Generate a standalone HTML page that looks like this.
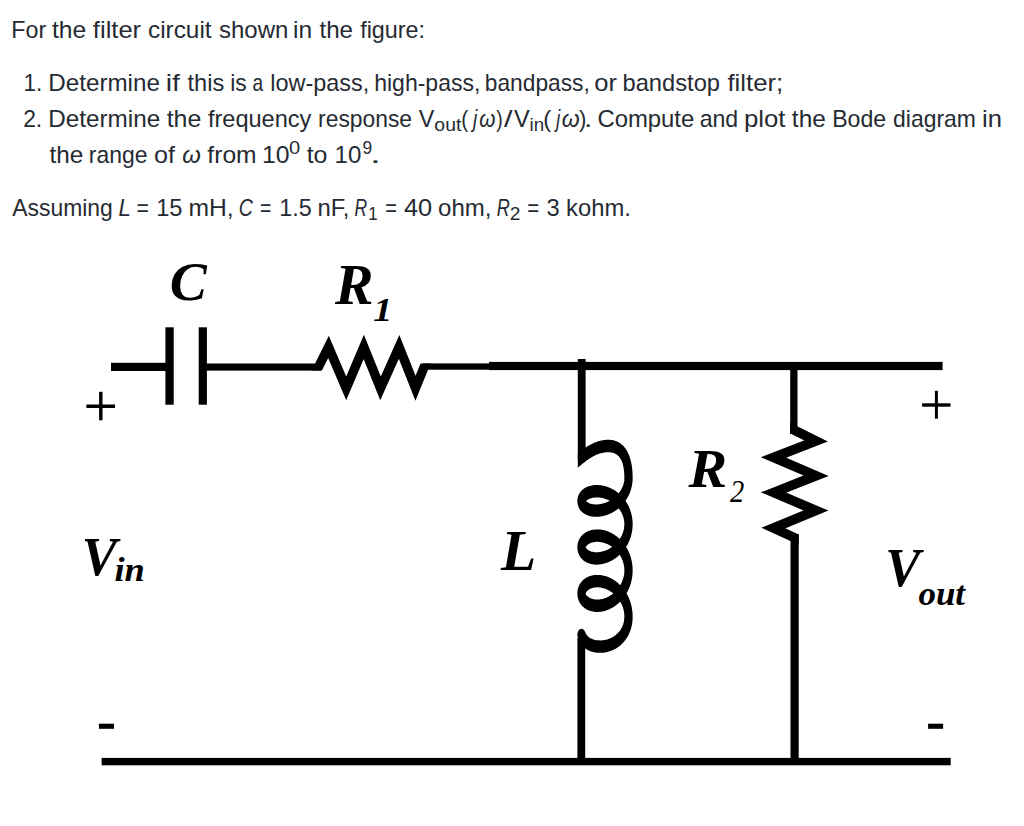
<!DOCTYPE html>
<html><head><meta charset="utf-8"><style>
html,body{margin:0;padding:0;background:#fff;}
body{width:1024px;height:826px;position:relative;overflow:hidden;}
</style></head><body>
<svg width="1024" height="826" viewBox="0 0 1024 826" style="position:absolute;left:0;top:0">
<g font-family="Liberation Sans, sans-serif" fill="#262a32">
<text x="11.26" y="37.80" font-size="24" textLength="34.87" lengthAdjust="spacingAndGlyphs">For</text>
<text x="51.95" y="37.80" font-size="24" textLength="34.27" lengthAdjust="spacingAndGlyphs">the</text>
<text x="92.87" y="37.80" font-size="24" textLength="48.25" lengthAdjust="spacingAndGlyphs">filter</text>
<text x="147.94" y="37.80" font-size="24" textLength="63.69" lengthAdjust="spacingAndGlyphs">circuit</text>
<text x="219.03" y="37.80" font-size="24" textLength="69.32" lengthAdjust="spacingAndGlyphs">shown</text>
<text x="293.05" y="37.80" font-size="24" textLength="19.09" lengthAdjust="spacingAndGlyphs">in</text>
<text x="319.46" y="37.80" font-size="24" textLength="33.54" lengthAdjust="spacingAndGlyphs">the</text>
<text x="360.20" y="37.80" font-size="24" textLength="64.81" lengthAdjust="spacingAndGlyphs">figure:</text>
<text x="23.42" y="91.30" font-size="24" textLength="18.77" lengthAdjust="spacingAndGlyphs">1.</text>
<text x="48.28" y="91.30" font-size="24" textLength="111.66" lengthAdjust="spacingAndGlyphs">Determine</text>
<text x="165.66" y="91.30" font-size="24" textLength="14.29" lengthAdjust="spacingAndGlyphs">if</text>
<text x="187.56" y="91.30" font-size="24" textLength="36.68" lengthAdjust="spacingAndGlyphs">this</text>
<text x="230.27" y="91.30" font-size="24" textLength="16.53" lengthAdjust="spacingAndGlyphs">is</text>
<text x="252.55" y="91.30" font-size="24" textLength="10.59" lengthAdjust="spacingAndGlyphs">a</text>
<text x="270.29" y="91.30" font-size="24" textLength="98.95" lengthAdjust="spacingAndGlyphs">low-pass,</text>
<text x="374.20" y="91.30" font-size="24" textLength="106.17" lengthAdjust="spacingAndGlyphs">high-pass,</text>
<text x="484.81" y="91.30" font-size="24" textLength="104.97" lengthAdjust="spacingAndGlyphs">bandpass,</text>
<text x="594.39" y="91.30" font-size="24" textLength="22.73" lengthAdjust="spacingAndGlyphs">or</text>
<text x="622.54" y="91.30" font-size="24" textLength="97.45" lengthAdjust="spacingAndGlyphs">bandstop</text>
<text x="727.46" y="91.30" font-size="24" textLength="55.80" lengthAdjust="spacingAndGlyphs">filter;</text>
<text x="23.17" y="126.80" font-size="24" textLength="19.05" lengthAdjust="spacingAndGlyphs">2.</text>
<text x="48.28" y="126.80" font-size="24" textLength="111.87" lengthAdjust="spacingAndGlyphs">Determine</text>
<text x="166.65" y="126.80" font-size="24" textLength="34.69" lengthAdjust="spacingAndGlyphs">the</text>
<text x="207.89" y="126.80" font-size="24" textLength="103.51" lengthAdjust="spacingAndGlyphs">frequency</text>
<text x="318.07" y="126.80" font-size="24" textLength="94.01" lengthAdjust="spacingAndGlyphs">response</text>
<text x="418.72" y="126.80" font-size="24" textLength="15.53" lengthAdjust="spacingAndGlyphs">V</text>
<text x="461.35" y="126.80" font-size="24" textLength="6.94" lengthAdjust="spacingAndGlyphs">(</text>
<text x="496.19" y="126.80" font-size="24" textLength="6.46" lengthAdjust="spacingAndGlyphs">)</text>
<text x="504.06" y="126.80" font-size="24" textLength="8.52" lengthAdjust="spacingAndGlyphs">/</text>
<text x="513.91" y="126.80" font-size="24" textLength="15.73" lengthAdjust="spacingAndGlyphs">V</text>
<text x="543.37" y="126.80" font-size="24" textLength="7.87" lengthAdjust="spacingAndGlyphs">(</text>
<text x="579.12" y="126.80" font-size="24" textLength="7.40" lengthAdjust="spacingAndGlyphs">)</text>
<text x="583.98" y="126.80" font-size="24" textLength="8.37" lengthAdjust="spacingAndGlyphs">.</text>
<text x="597.41" y="126.80" font-size="24" textLength="96.79" lengthAdjust="spacingAndGlyphs">Compute</text>
<text x="699.67" y="126.80" font-size="24" textLength="38.54" lengthAdjust="spacingAndGlyphs">and</text>
<text x="743.90" y="126.80" font-size="24" textLength="41.58" lengthAdjust="spacingAndGlyphs">plot</text>
<text x="791.85" y="126.80" font-size="24" textLength="33.96" lengthAdjust="spacingAndGlyphs">the</text>
<text x="832.17" y="126.80" font-size="24" textLength="53.98" lengthAdjust="spacingAndGlyphs">Bode</text>
<text x="893.10" y="126.80" font-size="24" textLength="82.75" lengthAdjust="spacingAndGlyphs">diagram</text>
<text x="981.97" y="126.80" font-size="24" textLength="19.94" lengthAdjust="spacingAndGlyphs">in</text>
<text x="472.99" y="126.80" font-size="24" font-style="italic" textLength="4.25" lengthAdjust="spacingAndGlyphs">j</text>
<text x="479.25" y="126.80" font-size="24" font-style="italic" textLength="16.16" lengthAdjust="spacingAndGlyphs">ω</text>
<text x="556.14" y="126.80" font-size="24" font-style="italic" textLength="3.94" lengthAdjust="spacingAndGlyphs">j</text>
<text x="561.66" y="126.80" font-size="24" font-style="italic" textLength="17.91" lengthAdjust="spacingAndGlyphs">ω</text>
<text x="434.36" y="130.80" font-size="17.5" textLength="27.00" lengthAdjust="spacingAndGlyphs">out</text>
<text x="529.59" y="130.80" font-size="17.5" textLength="14.54" lengthAdjust="spacingAndGlyphs">in</text>
<text x="49.45" y="162.50" font-size="24" textLength="33.75" lengthAdjust="spacingAndGlyphs">the</text>
<text x="88.86" y="162.50" font-size="24" textLength="58.69" lengthAdjust="spacingAndGlyphs">range</text>
<text x="153.91" y="162.50" font-size="24" textLength="20.97" lengthAdjust="spacingAndGlyphs">of</text>
<text x="207.38" y="162.50" font-size="24" textLength="49.19" lengthAdjust="spacingAndGlyphs">from</text>
<text x="262.04" y="162.50" font-size="24" textLength="27.60" lengthAdjust="spacingAndGlyphs">10</text>
<text x="306.65" y="162.50" font-size="24" textLength="20.79" lengthAdjust="spacingAndGlyphs">to</text>
<text x="334.60" y="162.50" font-size="24" textLength="26.82" lengthAdjust="spacingAndGlyphs">10</text>
<text x="369.90" y="162.50" font-size="24" textLength="10.80" lengthAdjust="spacingAndGlyphs">.</text>
<text x="182.23" y="162.50" font-size="24" font-style="italic" textLength="18.56" lengthAdjust="spacingAndGlyphs">ω</text>
<text x="288.96" y="153.90" font-size="17.5" textLength="11.19" lengthAdjust="spacingAndGlyphs">0</text>
<text x="362.59" y="153.90" font-size="17.5" textLength="9.65" lengthAdjust="spacingAndGlyphs">9</text>
<text x="12.29" y="216.20" font-size="24" textLength="100.51" lengthAdjust="spacingAndGlyphs">Assuming</text>
<text x="136.60" y="216.20" font-size="24" textLength="12.32" lengthAdjust="spacingAndGlyphs">=</text>
<text x="156.13" y="216.20" font-size="24" textLength="26.33" lengthAdjust="spacingAndGlyphs">15</text>
<text x="188.41" y="216.20" font-size="24" textLength="45.24" lengthAdjust="spacingAndGlyphs">mH,</text>
<text x="259.88" y="216.20" font-size="24" textLength="11.38" lengthAdjust="spacingAndGlyphs">=</text>
<text x="279.36" y="216.20" font-size="24" textLength="32.44" lengthAdjust="spacingAndGlyphs">1.5</text>
<text x="317.47" y="216.20" font-size="24" textLength="31.82" lengthAdjust="spacingAndGlyphs">nF,</text>
<text x="385.25" y="216.20" font-size="24" textLength="11.73" lengthAdjust="spacingAndGlyphs">=</text>
<text x="403.93" y="216.20" font-size="24" textLength="28.23" lengthAdjust="spacingAndGlyphs">40</text>
<text x="438.05" y="216.20" font-size="24" textLength="53.42" lengthAdjust="spacingAndGlyphs">ohm,</text>
<text x="527.23" y="216.20" font-size="24" textLength="11.97" lengthAdjust="spacingAndGlyphs">=</text>
<text x="546.49" y="216.20" font-size="24" textLength="13.18" lengthAdjust="spacingAndGlyphs">3</text>
<text x="566.07" y="216.20" font-size="24" textLength="64.72" lengthAdjust="spacingAndGlyphs">kohm.</text>
<text x="118.57" y="216.20" font-size="24" font-style="italic" textLength="12.34" lengthAdjust="spacingAndGlyphs">L</text>
<text x="238.71" y="216.20" font-size="24" font-style="italic" textLength="14.11" lengthAdjust="spacingAndGlyphs">C</text>
<text x="354.45" y="216.20" font-size="24" font-style="italic" textLength="12.60" lengthAdjust="spacingAndGlyphs">R</text>
<text x="496.63" y="216.20" font-size="24" font-style="italic" textLength="13.04" lengthAdjust="spacingAndGlyphs">R</text>
<text x="368.24" y="220.30" font-size="17.5" textLength="9.39" lengthAdjust="spacingAndGlyphs">1</text>
<text x="509.77" y="220.30" font-size="17.5" textLength="10.65" lengthAdjust="spacingAndGlyphs">2</text>
</g>
<g>
<g fill="#000" stroke="none">
  <rect x="111" y="362.8" width="56" height="8.2"/>
  <rect x="165.4" y="327.3" width="8.3" height="77.4"/>
  <rect x="198.7" y="327.3" width="8.2" height="77.4"/>
  <rect x="206" y="363.5" width="115" height="7.1"/>
  <rect x="423" y="363.4" width="68" height="6.3"/>
  <rect x="489" y="361.9" width="453.6" height="8.2"/>
  <rect x="101.6" y="757.9" width="849.1" height="7.4"/>
  <rect x="577.8" y="359" width="7.8" height="100"/>
  <rect x="577.4" y="638" width="7.8" height="123"/>
  <rect x="790.2" y="362" width="7.3" height="72"/>
  <rect x="790.5" y="534" width="8.2" height="227"/>
  <rect x="86.4" y="404.5" width="28.6" height="3.5"/>
  <rect x="99.1" y="391.8" width="3.4" height="28.5"/>
  <rect x="922.1" y="403.3" width="28.4" height="3.4"/>
  <rect x="934.9" y="390.8" width="3" height="27.8"/>
  <rect x="98.9" y="723.7" width="15.1" height="5.1"/>
  <rect x="928.1" y="723.7" width="15" height="5.1"/>
</g>
<clipPath id="c1"><polygon points="300,320 420,320 420,363.4 450,363.4 450,420 325,420 325,370.6 300,370.6"/></clipPath>
<polyline clip-path="url(#c1)" points="314.5,375 328.5,346.9 346.2,388.3 363.8,346.9 380.5,388.3 399.1,346.9 415.5,388.3 427,360" fill="none" stroke="#000" stroke-width="9.3" stroke-miterlimit="10" stroke-linejoin="miter"/>
<clipPath id="c2"><polygon points="790.2,400 850,400 850,525 798.7,525 798.7,560 740,560 740,445 790.2,445"/></clipPath>
<polyline clip-path="url(#c2)" points="783,424.5 816,441 773.5,457.5 816,475.7 773.5,492.5 816,510.5 773.5,528 806,543" fill="none" stroke="#000" stroke-width="9.6" stroke-miterlimit="10" stroke-linejoin="miter"/>
<clipPath id="c3"><polygon points="577.8,400 700,400 700,700 560,700 560,482 577.8,482"/></clipPath><g clip-path="url(#c3)"><g transform="scale(1,1.5)"><path d="M574.00,309.33 L575.39,308.48 L576.75,307.67 L578.08,306.89 L579.40,306.15 L580.69,305.44 L581.96,304.76 L583.20,304.11 L584.43,303.50 L585.64,302.92 L586.83,302.37 L588.01,301.85 L589.17,301.37 L590.31,300.91 L591.44,300.48 L592.56,300.08 L593.67,299.71 L594.77,299.37 L595.85,299.06 L596.93,298.78 L598.00,298.52 L599.06,298.29 L600.12,298.08 L601.17,297.90 L602.22,297.75 L603.27,297.62 L604.32,297.52 L605.36,297.44 L606.41,297.38 L607.45,297.34 L608.50,297.33 L609.64,297.35 L610.76,297.41 L611.85,297.52 L612.93,297.66 L613.97,297.85 L615.00,298.08 L615.99,298.36 L616.96,298.68 L617.89,299.04 L618.80,299.46 L619.67,299.92 L620.51,300.43 L621.31,300.98 L622.08,301.59 L622.81,302.25 L623.51,302.96 L624.16,303.72 L624.77,304.53 L625.34,305.40 L625.87,306.32 L626.35,307.30 L626.79,308.33 L627.18,309.42 L627.52,310.56 L627.82,311.76 L628.06,313.02 L628.25,314.34 L628.39,315.72 L628.47,317.16 L628.50,318.67 L628.47,319.52 L628.40,320.36 L628.27,321.21 L628.08,322.05 L627.85,322.88 L627.57,323.71 L627.23,324.53 L626.85,325.34 L626.42,326.14 L625.94,326.93 L625.41,327.70 L624.84,328.46 L624.23,329.21 L623.57,329.94 L622.87,330.65 L622.13,331.34 L621.35,332.01 L620.54,332.66 L619.69,333.29 L618.81,333.90 L617.90,334.48 L616.96,335.04 L616.00,335.57 L615.01,336.08 L613.99,336.56 L612.96,337.01 L611.91,337.44 L610.84,337.84 L609.77,338.21 L608.68,338.55 L607.58,338.86 L606.48,339.15 L605.37,339.40 L604.26,339.63 L603.16,339.82 L602.05,339.99 L600.96,340.13 L599.87,340.24 L598.80,340.32 L597.74,340.38 L596.69,340.40 L595.67,340.40 L594.66,340.38 L593.68,340.32 L592.72,340.24 L591.79,340.14 L590.89,340.01 L590.02,339.86 L589.18,339.68 L588.38,339.49 L587.62,339.27 L586.89,339.04 L586.21,338.78 L585.56,338.51 L584.96,338.22 L584.41,337.92 L583.90,337.60 L583.43,337.27 L583.02,336.93 L582.65,336.58 L582.33,336.22 L582.07,335.85 L581.85,335.47 L581.69,335.09 L581.57,334.71 L581.51,334.32 L581.50,333.94 L581.55,333.55 L581.64,333.16 L581.79,332.78 L581.99,332.40 L582.24,332.02 L582.54,331.65 L582.89,331.29 L583.29,330.94 L583.74,330.60 L584.23,330.27 L584.77,329.95 L585.36,329.64 L585.99,329.36 L586.66,329.08 L587.37,328.83 L588.12,328.59 L588.91,328.38 L589.74,328.18 L590.60,328.01 L591.49,327.86 L592.41,327.73 L593.36,327.63 L594.33,327.55 L595.33,327.50 L596.35,327.48 L597.39,327.48 L598.44,327.51 L599.51,327.57 L600.60,327.65 L601.69,327.77 L602.79,327.92 L603.89,328.09 L605.00,328.30 L606.11,328.53 L607.21,328.80 L608.31,329.09 L609.40,329.42 L610.49,329.77 L611.56,330.16 L612.61,330.57 L613.65,331.01 L614.67,331.48 L615.67,331.98 L616.64,332.51 L617.59,333.06 L618.51,333.64 L619.40,334.24 L620.26,334.87 L621.09,335.52 L621.88,336.19 L622.63,336.89 L623.34,337.61 L624.01,338.34 L624.64,339.10 L625.23,339.87 L625.77,340.66 L626.26,341.47 L626.71,342.29 L627.11,343.12 L627.46,343.96 L627.76,344.81 L628.01,345.67 L628.21,346.54 L628.36,347.41 L628.45,348.29 L628.50,349.17 L628.49,350.06 L628.43,350.94 L628.31,351.82 L628.15,352.70 L627.93,353.57 L627.67,354.44 L627.35,355.30 L626.98,356.15 L626.57,357.00 L626.10,357.83 L625.59,358.65 L625.04,359.45 L624.44,360.24 L623.79,361.01 L623.11,361.77 L622.38,362.50 L621.62,363.22 L620.82,363.91 L619.98,364.58 L619.11,365.23 L618.21,365.86 L617.28,366.46 L616.32,367.03 L615.34,367.57 L614.33,368.09 L613.31,368.58 L612.26,369.04 L611.20,369.48 L610.13,369.88 L609.04,370.25 L607.95,370.59 L606.84,370.90 L605.74,371.18 L604.63,371.42 L603.52,371.64 L602.42,371.82 L601.32,371.98 L600.23,372.10 L599.16,372.19 L598.09,372.25 L597.04,372.27 L596.01,372.27 L594.99,372.24 L594.00,372.18 L593.04,372.09 L592.10,371.98 L591.19,371.83 L590.31,371.66 L589.46,371.47 L588.65,371.25 L587.87,371.00 L587.13,370.74 L586.43,370.45 L585.77,370.14 L585.16,369.81 L584.59,369.47 L584.06,369.11 L583.58,368.73 L583.15,368.34 L582.77,367.93 L582.43,367.52 L582.15,367.09 L581.92,366.66 L581.73,366.22 L581.60,365.77 L581.53,365.32 L581.50,364.87 L581.53,364.41 L581.60,363.96 L581.73,363.51 L581.92,363.06 L582.15,362.62 L582.43,362.19 L582.77,361.76 L583.15,361.35 L583.58,360.95 L584.06,360.56 L584.59,360.18 L585.16,359.82 L585.77,359.48 L586.43,359.15 L587.13,358.85 L587.87,358.56 L588.65,358.30 L589.46,358.06 L590.31,357.84 L591.19,357.65 L592.10,357.49 L593.04,357.35 L594.00,357.24 L594.99,357.16 L596.01,357.10 L597.04,357.08 L598.09,357.09 L599.16,357.13 L600.23,357.20 L601.32,357.30 L602.42,357.43 L603.52,357.60 L604.63,357.80 L605.74,358.03 L606.84,358.30 L607.95,358.59 L609.04,358.92 L610.13,359.28 L611.20,359.68 L612.26,360.10 L613.31,360.56 L614.33,361.05 L615.34,361.56 L616.32,362.11 L617.28,362.69 L618.21,363.29 L619.11,363.92 L619.98,364.58 L620.82,365.26 L621.62,365.97 L622.38,366.70 L623.11,367.46 L623.79,368.23 L624.44,369.03 L625.04,369.84 L625.59,370.67 L626.10,371.52 L626.57,372.38 L626.98,373.26 L627.35,374.15 L627.67,375.05 L627.93,375.95 L628.15,376.87 L628.31,377.79 L628.43,378.72 L628.49,379.65 L628.50,380.58 L628.45,381.51 L628.36,382.44 L628.21,383.36 L628.01,384.28 L627.76,385.20 L627.46,386.11 L627.11,387.00 L626.71,387.89 L626.26,388.77 L625.77,389.63 L625.23,390.47 L624.64,391.30 L624.01,392.11 L623.34,392.91 L622.63,393.68 L621.88,394.43 L621.09,395.16 L620.26,395.86 L619.40,396.54 L618.51,397.20 L617.59,397.82 L616.64,398.42 L615.67,398.99 L614.67,399.53 L613.65,400.04 L612.61,400.52 L611.56,400.97 L610.49,401.39 L609.40,401.77 L608.31,402.12 L607.21,402.44 L606.11,402.73 L605.00,402.98 L603.89,403.20 L602.79,403.38 L601.69,403.54 L600.60,403.66 L599.51,403.74 L598.44,403.80 L597.39,403.82 L596.35,403.81 L595.33,403.77 L594.33,403.70 L593.36,403.59 L592.41,403.46 L591.49,403.30 L590.60,403.12 L589.74,402.90 L588.91,402.66 L588.12,402.40 L587.37,402.11 L586.66,401.80 L585.99,401.47 L585.36,401.11 L584.77,400.74 L584.23,400.36 L583.74,399.95 L583.29,399.53 L582.89,399.10 L582.54,398.66 L582.24,398.20 L581.99,397.74 L581.79,397.27 L581.64,396.79 L581.55,396.31 L581.50,395.83 L581.51,395.34 L581.57,394.86 L581.69,394.38 L581.85,393.91 L582.07,393.44 L582.33,392.97 L582.65,392.52 L583.02,392.07 L583.43,391.64 L583.90,391.23 L584.41,390.82 L584.96,390.43 L585.56,390.06 L586.21,389.71 L586.89,389.38 L587.62,389.07 L588.38,388.79 L589.18,388.53 L590.02,388.29 L590.89,388.08 L591.79,387.89 L592.72,387.74 L593.68,387.61 L594.66,387.51 L595.67,387.44 L596.69,387.40 L597.74,387.40 L598.80,387.42 L599.87,387.48 L600.96,387.57 L602.05,387.70 L603.16,387.86 L604.26,388.05 L605.37,388.27 L606.48,388.53 L607.58,388.83 L608.68,389.15 L609.77,389.51 L610.84,389.90 L611.91,390.33 L612.96,390.79 L613.99,391.27 L615.01,391.79 L616.00,392.35 L616.96,392.93 L617.90,393.54 L618.81,394.17 L619.69,394.84 L620.54,395.53 L621.35,396.24 L622.13,396.98 L622.87,397.75 L623.57,398.53 L624.23,399.34 L624.84,400.17 L625.41,401.01 L625.94,401.87 L626.42,402.74 L626.85,403.63 L627.23,404.54 L627.57,405.45 L627.85,406.37 L628.08,407.30 L628.27,408.24 L628.40,409.18 L628.47,410.12 L628.50,411.07 L628.46,412.28 L628.32,413.46 L628.11,414.61 L627.81,415.72 L627.43,416.81 L626.98,417.86 L626.45,418.87 L625.85,419.85 L625.18,420.80 L624.44,421.70 L623.65,422.57 L622.79,423.41 L621.87,424.20 L620.90,424.95 L619.88,425.67 L618.80,426.34 L617.68,426.97 L616.51,427.56 L615.30,428.11 L614.06,428.61 L612.77,429.07 L611.45,429.48 L610.10,429.84 L608.72,430.16 L607.32,430.44 L605.89,430.66 L604.44,430.84 L602.98,430.96 L601.49,431.04 L600.00,431.07 L599.01,431.06 L598.05,431.03 L597.12,430.98 L596.21,430.91 L595.33,430.82 L594.48,430.71 L593.65,430.58 L592.84,430.44 L592.07,430.28 L591.31,430.10 L590.59,429.90 L589.89,429.69 L589.21,429.46 L588.56,429.21 L587.94,428.95 L587.34,428.67 L586.76,428.38 L586.21,428.07 L585.69,427.75 L585.19,427.41 L584.71,427.06 L584.26,426.70 L583.83,426.32 L583.42,425.93 L583.04,425.53 L582.69,425.11 L582.36,424.68 L582.05,424.24 L581.76,423.79 L581.50,423.33" fill="none" stroke="#000" stroke-width="8.3" stroke-linejoin="round" stroke-linecap="round"/></g></g>
</g>
<g font-family="Liberation Serif, serif" font-style="italic" fill="#000">
<text x="169.71" y="300.15" font-size="55.37" font-weight="bold" textLength="37.02" lengthAdjust="spacingAndGlyphs">C</text>
<text x="335.00" y="303.51" font-size="56.47" font-weight="bold" textLength="38.54" lengthAdjust="spacingAndGlyphs">R</text>
<text x="373.38" y="321.30" font-size="34.70" font-weight="bold" textLength="19.11" lengthAdjust="spacingAndGlyphs">1</text>
<text x="688.50" y="486.71" font-size="55.55" font-weight="bold" textLength="38.64" lengthAdjust="spacingAndGlyphs">R</text>
<text x="729.95" y="502.15" font-size="30.80" font-weight="normal" textLength="14.27" lengthAdjust="spacingAndGlyphs">2</text>
<text x="501.14" y="569.53" font-size="56.05" font-weight="bold" textLength="35.18" lengthAdjust="spacingAndGlyphs">L</text>
<text x="81.73" y="575.31" font-size="54.63" font-weight="bold" textLength="35.27" lengthAdjust="spacingAndGlyphs">V</text>
<text x="114.51" y="580.75" font-size="34.15" font-weight="bold" textLength="30.37" lengthAdjust="spacingAndGlyphs">in</text>
<text x="885.15" y="586.21" font-size="54.63" font-weight="bold" textLength="35.07" lengthAdjust="spacingAndGlyphs">V</text>
<text x="918.43" y="604.86" font-size="34.27" font-weight="bold" textLength="46.65" lengthAdjust="spacingAndGlyphs">out</text>
</g>
</svg>
</body></html>
